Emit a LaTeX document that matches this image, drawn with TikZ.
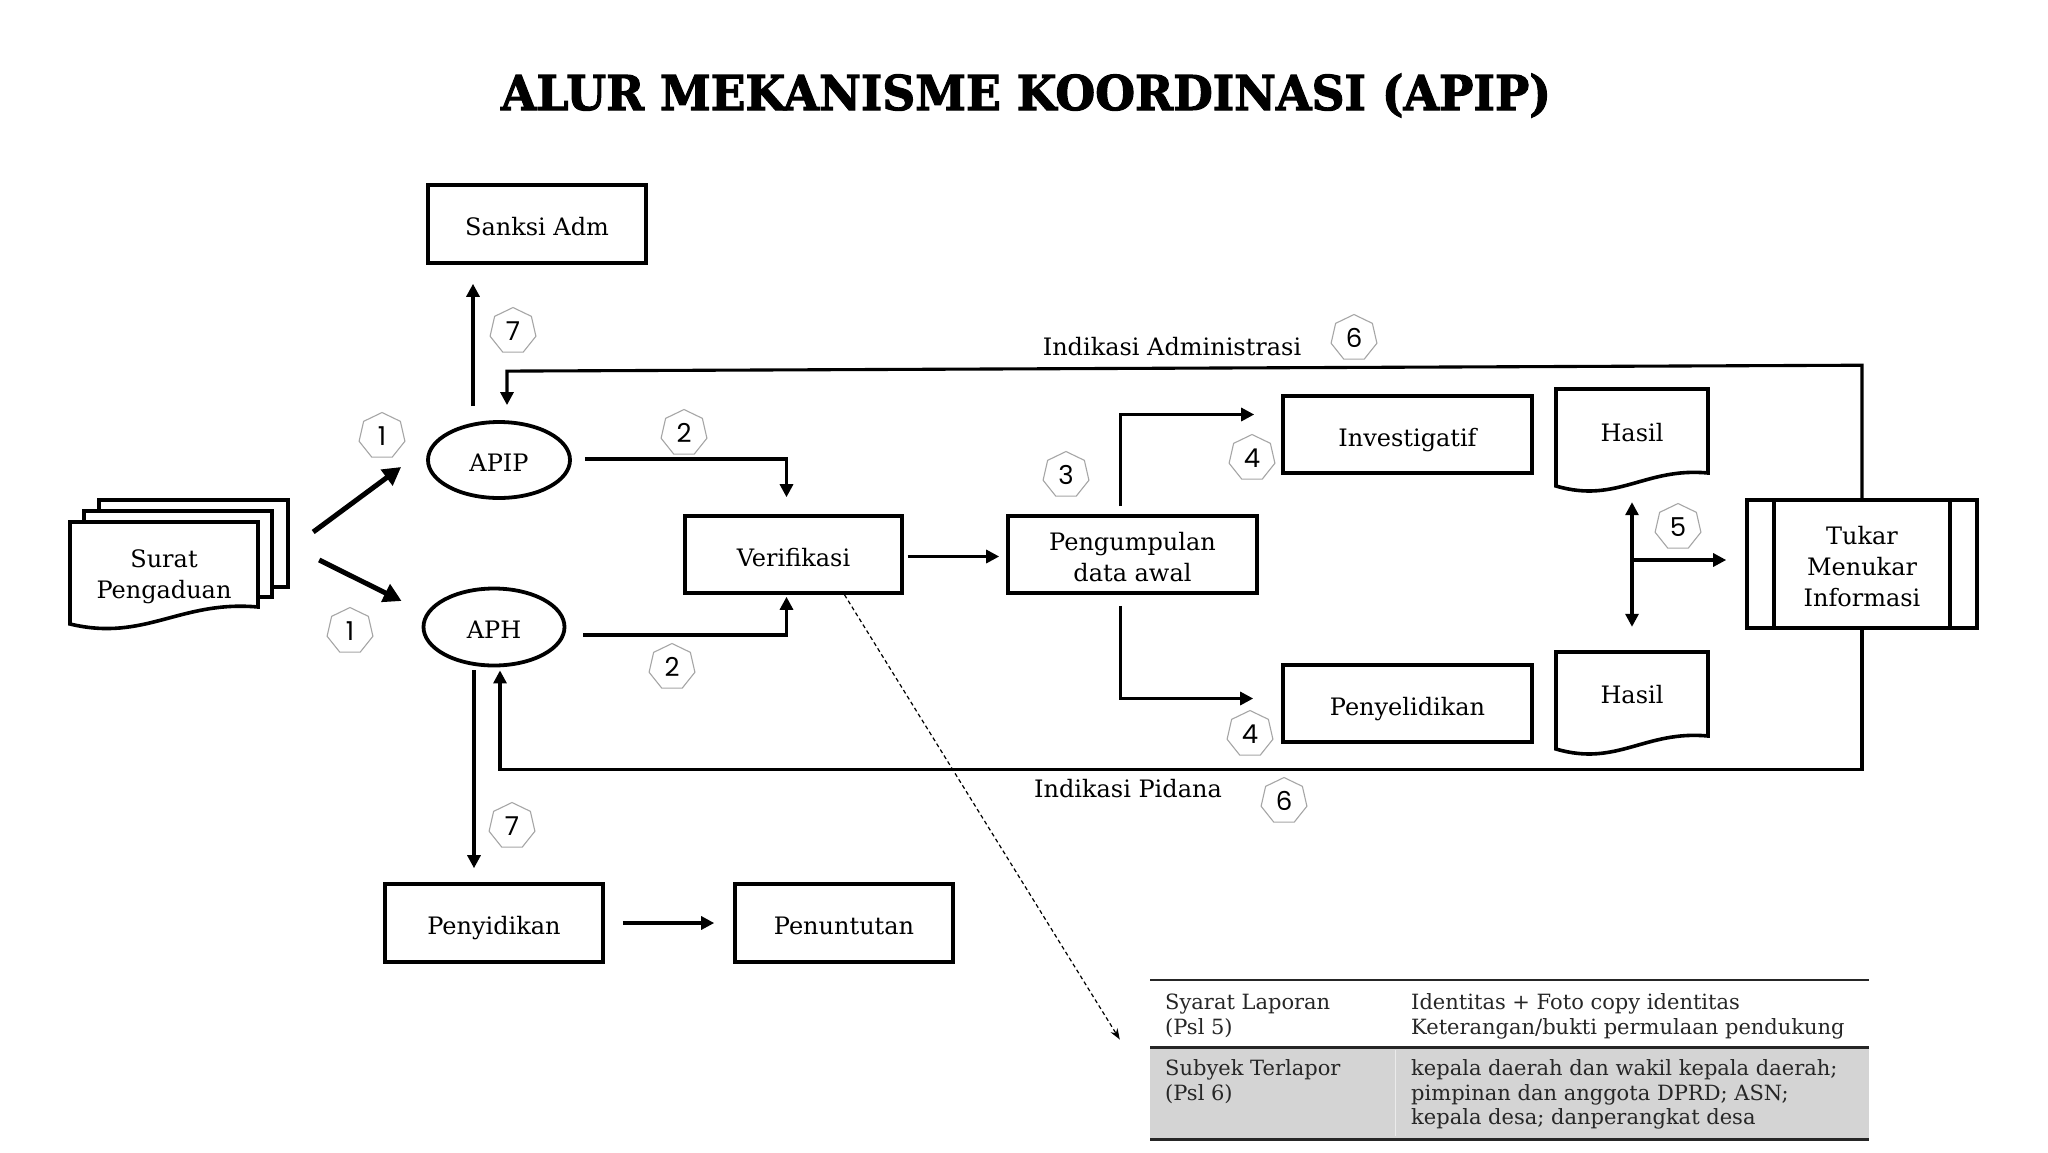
\documentclass[tikz,border=0pt]{standalone}
\usepackage{fontspec}
\usepackage{graphicx}
\setmainfont{DejaVu Serif}
\newfontfamily\numfont{Poppins}
\newfontfamily\titlefont{DejaVu Serif}[BoldFeatures={FakeBold=2.2}]
\usetikzlibrary{arrows.meta,shapes.geometric,calc}
\begin{document}
\begin{tikzpicture}[x=1pt,y=-1pt,
  txt/.style={font=\fontsize{24}{31}\selectfont, align=center},
  boxnode/.style={draw, rectangle, line width=3.6pt, inner sep=0pt},
  ell/.style={draw, ellipse, line width=3.8pt, inner sep=0pt},
  lab/.style={txt, inner sep=0pt, text depth=0pt, yshift=-2.6pt},
  mlab/.style={txt, inner sep=0pt, yshift=-2.8pt},
  hept/.style={regular polygon, regular polygon sides=7, draw=gray!70, line width=1.1pt,
     minimum size=47pt, inner sep=0pt, font=\numfont\fontsize{26}{26}\selectfont},
  conn/.style={line width=3.1pt, -{Triangle[length=13pt,width=13pt]}},
  dconn/.style={line width=3.1pt, {Triangle[length=13pt,width=13pt]}-{Triangle[length=13pt,width=13pt]}},
  fat/.style={line width=5pt, -{Triangle[length=18pt,width=19pt]}},
  docline/.style={draw, line width=3.6pt, fill=white, line join=miter},
  tt/.style={font=\fontsize{21}{25}\selectfont, text=black!85, inner sep=0pt, anchor=base west}
]
\fill[white] (0,0) rectangle (2048,1152);
\useasboundingbox (0,0) rectangle (2048,1152);

% title
\node[anchor=base, font=\titlefont\bfseries\fontsize{48}{48}\selectfont, inner sep=0pt] (title) at (1026,110)
  {\resizebox{1050pt}{\height}{ALUR MEKANISME KOORDINASI (APIP)}};

% Surat stack
\path[docline] (99,500) rectangle (288,587);
\path[docline] (84,511) rectangle (272,597);
\path[docline] (70,522) -- (258,522) -- (258,607) .. controls (180,600) and (145,642) .. (70,624) -- cycle;
\node[txt, minimum width=188pt, minimum height=100pt, inner sep=0pt] (surat) at (164,577) {Surat\\Pengaduan};

% main nodes
\node[boxnode, minimum width=218pt, minimum height=78pt] (sanksi) at (537,224) {};
\node[lab] (sanksit) at (sanksi) {Sanksi Adm};
\node[ell, minimum width=142pt, minimum height=76pt] (apip) at (499,460) {};
\node[lab] (apipt) at (apip) {APIP};
\node[ell, minimum width=141pt, minimum height=77pt] (aph) at (494,627) {};
\node[lab] (apht) at (aph) {APH};
\node[boxnode, minimum width=217pt, minimum height=77pt] (verif) at (793.5,554.5) {};
\node[lab] (veriff) at (verif) {Verifikasi};
\node[boxnode, minimum width=249pt, minimum height=77pt] (peng) at (1132.5,554.5) {};
\node[mlab] (pengt) at (peng) {Pengumpulan\\data awal};
\node[boxnode, minimum width=249pt, minimum height=77pt] (invest) at (1407.5,434.5) {};
\node[lab] (investt) at (invest) {Investigatif};
\node[boxnode, minimum width=249pt, minimum height=77pt] (penyel) at (1407.5,703.5) {};
\node[lab] (penyelt) at (penyel) {Penyelidikan};
\node[boxnode, minimum width=230pt, minimum height=128pt] (tukar) at (1862,564) {};
\node[mlab] (tukart) at (tukar) {Tukar\\Menukar\\Informasi};
\draw[line width=3.6pt] ($(tukar.north west)+(29,0)$) -- ($(tukar.south west)+(29,0)$);
\draw[line width=3.6pt] ($(tukar.north east)+(-29,0)$) -- ($(tukar.south east)+(-29,0)$);
\node[boxnode, minimum width=218pt, minimum height=78pt] (penyid) at (494,923) {};
\node[lab] (penyidt) at (penyid) {Penyidikan};
\node[boxnode, minimum width=218pt, minimum height=78pt] (penunt) at (844,923) {};
\node[lab] (penuntt) at (penunt) {Penuntutan};

% Hasil documents
\path[docline] (1556,389) -- (1708,389) -- (1708,473) .. controls (1645,467) and (1617,504) .. (1556,486) -- cycle;
\node[inner sep=0pt, minimum width=152pt, minimum height=102pt] (hasil1) at (1632,440) {};
\node[txt, anchor=base] (hasil1t) at (1632,441) {Hasil};
\path[docline] (1556,652) -- (1708,652) -- (1708,736) .. controls (1645,730) and (1617,767) .. (1556,749) -- cycle;
\node[inner sep=0pt, minimum width=152pt, minimum height=102pt] (hasil2) at (1632,703) {};
\node[txt, anchor=base] (hasil2t) at (1632,703) {Hasil};

% connectors
\draw[fat] ($(surat.east)+(55,-45)$) -- ($(apip.west)+(-25,7)$);
\draw[fat] ($(surat.east)+(61,-17)$) -- ($(aph.west)+(-20,-26)$);
\draw[conn] ($(apip.north)+(-26,-14)$) -- ($(sanksi.south)+(-64,19)$);
\draw[conn] (tukar.north) -- ($(tukar.north)+(0,-133)$) -- ($(apip.north)+(8,-49)$) -- ($(apip.north)+(8,-15)$);
\draw[conn] ($(apip.east)+(13,-1)$) -| ($(verif.north)+(-7,-17)$);
\draw[conn] ($(aph.east)+(17,8)$) -| ($(verif.south)+(-7,2)$);
\draw[conn] ($(verif.east)+(4,2)$) -- ($(peng.west)+(-7,2)$);
\draw[conn] ($(peng.north)+(-12,-8)$) |- ($(invest.west)+(-27,-20)$);
\draw[conn] ($(peng.south)+(-12,11)$) |- ($(penyel.west)+(-28,-5)$);
\draw[dconn] ($(hasil1.south)+(0,11)$) -- ($(hasil2.north)+(0,-25)$);
\coordinate (j5) at (1632,560);
\draw[conn] (j5) -- ($(tukar.west)+(-19,-4)$);
\draw[conn] (tukar.south) |- ($(aph.south)+(6,102)$) -- ($(aph.south)+(6,3)$);
\draw[conn] ($(aph.south)+(-20,3)$) -- ($(penyid.north)+(-20,-14)$);
\draw[conn] ($(penyid.east)+(18,0)$) -- ($(penunt.west)+(-19,0)$);

% labels
\node[txt, anchor=base] (lbladm) at (1172,355) {Indikasi Administrasi};
\node[txt, anchor=base] (lblpid) at (1128,797) {Indikasi Pidana};

% heptagons
\node[hept] (h1a) at (382,436) {1};
\node[hept] (h1b) at (350,631) {1};
\node[hept] (h7a) at (513,331) {7};
\node[hept] (h7b) at (512,826) {7};
\node[hept] (h2a) at (684,433) {2};
\node[hept] (h2b) at (672,667) {2};
\node[hept] (h3) at (1066,475) {3};
\node[hept] (h4a) at (1252,458) {4};
\node[hept] (h4b) at (1250,734) {4};
\node[hept] (h5) at (1678,527) {5};
\node[hept] (h6a) at (1354,338) {6};
\node[hept] (h6b) at (1284,801) {6};

% table
\node[inner sep=0pt, minimum width=719pt, minimum height=159pt] (tbl) at (1509.5,1059.5) {};
\fill[black!17] (1150,1047) rectangle (1869,1139);
\draw[line width=1pt, black!8] (1395,1050) -- (1395,1136);
\draw[line width=2.2pt, black!85] (1150,980) -- (1869,980);
\draw[line width=3pt, black!85] (1150,1047) -- (1869,1047);
\draw[line width=3pt, black!85] (1150,1139) -- (1869,1139);
\node[tt] (t11) at (1165,1009) {Syarat Laporan};
\node[tt] (t12) at (1165,1034) {(Psl 5)};
\node[tt] (t13) at (1411,1009) {Identitas + Foto copy identitas};
\node[tt] (t14) at (1411,1034) {Keterangan/bukti permulaan pendukung};
\node[tt] (t21) at (1165,1075) {Subyek Terlapor};
\node[tt] (t22) at (1165,1100) {(Psl 6)};
\node[tt] (t23) at (1411,1075) {kepala daerah dan wakil kepala daerah;};
\node[tt] (t24) at (1411,1100) {pimpinan dan anggota DPRD; ASN;};
\node[tt] (t25) at (1411,1124) {kepala desa; danperangkat desa};

% dashed pointer
\draw[line width=1.2pt, dash pattern=on 4pt off 3pt, -{Stealth[length=11pt,width=8pt]}]
  ($(verif.south)+(51,0)$) -- ($(tbl.west)+(-30,-20)$);
\end{tikzpicture}
\end{document}
